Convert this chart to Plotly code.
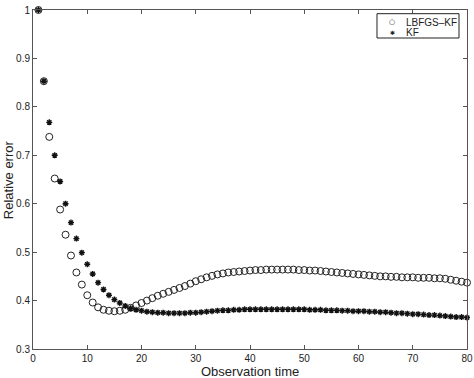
import plotly.graph_objects as go

obs_time = list(range(1, 81))

lbfgs_kf = [
    1.000, 0.853, 0.738, 0.652, 0.588, 0.536, 0.493, 0.458, 0.433, 0.411,
    0.396, 0.386, 0.381, 0.379, 0.378, 0.379, 0.381, 0.385, 0.390, 0.395,
    0.400, 0.405, 0.410, 0.414, 0.418, 0.422, 0.426, 0.430, 0.435, 0.440,
    0.444, 0.448, 0.451, 0.454, 0.456, 0.458, 0.459, 0.460, 0.461, 0.462,
    0.463, 0.463, 0.464, 0.464, 0.464, 0.464, 0.464, 0.464, 0.463, 0.463,
    0.462, 0.462, 0.461, 0.460, 0.459, 0.458, 0.457, 0.456, 0.455, 0.454,
    0.453, 0.452, 0.451, 0.450, 0.450, 0.449, 0.449, 0.448, 0.448, 0.448,
    0.447, 0.447, 0.447, 0.446, 0.446, 0.445, 0.443, 0.441, 0.439, 0.437,
]

kf = [
    1.000, 0.853, 0.768, 0.700, 0.646, 0.600, 0.561, 0.528, 0.499, 0.475,
    0.455, 0.437, 0.423, 0.411, 0.402, 0.395, 0.389, 0.384, 0.381, 0.379,
    0.377, 0.376, 0.375, 0.375, 0.374, 0.374, 0.374, 0.374, 0.375, 0.375,
    0.376, 0.377, 0.378, 0.379, 0.380, 0.380, 0.381, 0.381, 0.382, 0.382,
    0.382, 0.382, 0.382, 0.382, 0.382, 0.382, 0.382, 0.382, 0.382, 0.382,
    0.381, 0.381, 0.381, 0.380, 0.380, 0.380, 0.379, 0.379, 0.378, 0.378,
    0.378, 0.377, 0.377, 0.376, 0.376, 0.375, 0.374, 0.374, 0.373, 0.372,
    0.372, 0.371, 0.370, 0.370, 0.369, 0.368, 0.367, 0.366, 0.366, 0.365,
]

series_names = ["LBFGS\u2013KF", "KF"]
legend_glyphs = ["\u25CB", "\u2731"]

x_ticks = [0, 10, 20, 30, 40, 50, 60, 70, 80]
y_ticks = [0.3, 0.4, 0.5, 0.6, 0.7, 0.8, 0.9, 1.0]
y_tick_text = ["0.3", "0.4", "0.5", "0.6", "0.7", "0.8", "0.9", "1"]

FONT = "Liberation Sans, Arial"
INK = "#222"

fig = go.Figure()
fig.add_trace(go.Scatter(
    x=obs_time, y=lbfgs_kf, mode="markers", name=series_names[0],
    cliponaxis=False, showlegend=False,
    marker=dict(symbol="circle-open", size=7, color=INK,
                line=dict(width=1, color=INK)),
))
fig.add_trace(go.Scatter(
    x=obs_time, y=kf, mode="markers", name=series_names[1],
    cliponaxis=False, showlegend=False,
    marker=dict(symbol="asterisk-open", size=5, color="#111",
                line=dict(width=1.4, color="#111")),
))

axis_common = dict(
    showline=True, linecolor="#555", linewidth=1, mirror="ticks",
    ticks="inside", ticklen=4, tickcolor="#555", showgrid=False, zeroline=False,
    automargin=False,
    tickfont=dict(family=FONT, size=10, color=INK),
)

# compact legend box (MATLAB style)
leg_x0, leg_x1, leg_y0, leg_y1 = 0.7926, 0.9816, 0.9174, 0.9891
sym_x, txt_x = 0.8272, 0.8548
row_y = [0.9646, 0.9351]

annotations = [
    dict(text="Observation time", xref="paper", yref="paper",
         x=0.5, y=-0.037, xanchor="center", yanchor="top", showarrow=False,
         font=dict(family=FONT, size=13, color=INK)),
    dict(text="Relative error", xref="paper", yref="paper",
         x=-0.056, y=0.5, xanchor="center", yanchor="middle", textangle=-90,
         showarrow=False, font=dict(family=FONT, size=13, color=INK)),
]
glyph_sizes = [7, 6]
for name, glyph, gs, ry in zip(series_names, legend_glyphs, glyph_sizes, row_y):
    annotations.append(dict(text=glyph, xref="paper", yref="paper", x=sym_x, y=ry,
                            xanchor="center", yanchor="middle", showarrow=False,
                            font=dict(family="DejaVu Sans", size=gs, color=INK)))
    annotations.append(dict(text=name, xref="paper", yref="paper", x=txt_x, y=ry,
                            xanchor="left", yanchor="middle", showarrow=False,
                            font=dict(family=FONT, size=10, color=INK)))

fig.update_layout(
    width=474, height=378,
    margin=dict(l=33, r=7, t=10, b=29),
    plot_bgcolor="white", paper_bgcolor="white",
    showlegend=False,
    xaxis=dict(range=[0, 80], tickvals=x_ticks, **axis_common),
    yaxis=dict(range=[0.3, 1.0], tickvals=y_ticks, ticktext=y_tick_text, **axis_common),
    shapes=[dict(type="rect", xref="paper", yref="paper",
                 x0=leg_x0, x1=leg_x1, y0=leg_y0, y1=leg_y1,
                 line=dict(color=INK, width=1), fillcolor="white", layer="above")],
    annotations=annotations,
)

fig.write_html("out.html", config={"displayModeBar": False},
               post_script="document.body.style.margin='0';document.body.style.overflow='hidden';")
